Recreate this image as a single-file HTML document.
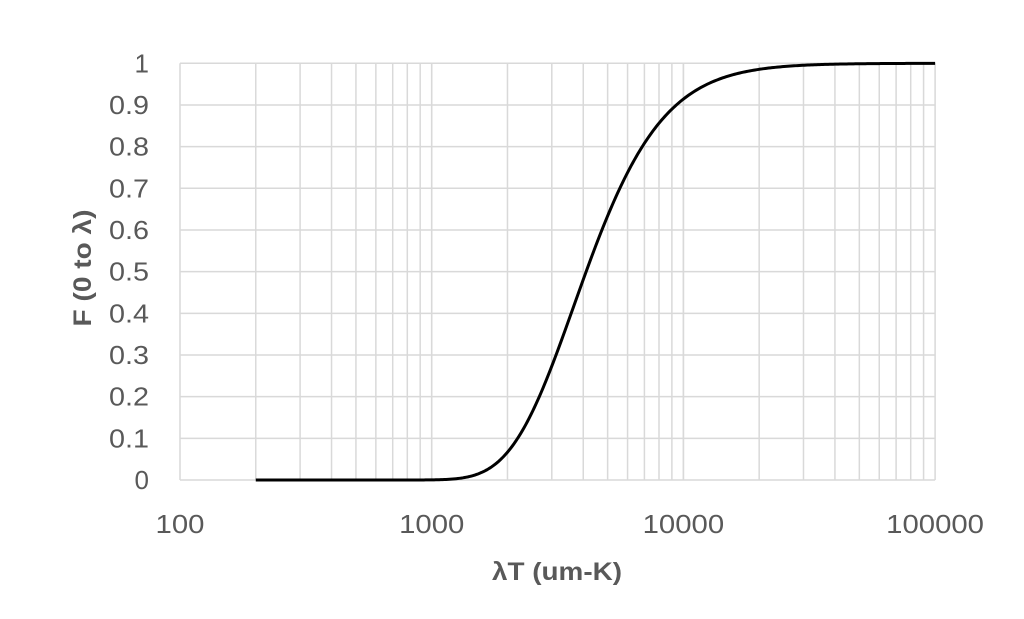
<!DOCTYPE html>
<html><head><meta charset="utf-8"><style>
html,body{margin:0;padding:0;background:#fff;}
svg{display:block;}
text{font-family:"Liberation Sans",sans-serif;fill:#595959;}
</style></head><body>
<svg id="s" width="1024" height="619" viewBox="0 0 1024 619" xmlns="http://www.w3.org/2000/svg">
<g id="grid" stroke="#d9d9d9" stroke-width="1.5" fill="none"></g>
<g id="labels" font-size="26"></g>
<text x="557" y="580" font-size="25" font-weight="bold" text-anchor="middle" textLength="130" lengthAdjust="spacingAndGlyphs">λT (um-K)</text>
<text transform="translate(91,268) rotate(-90)" font-size="25" font-weight="bold" text-anchor="middle" textLength="117" lengthAdjust="spacingAndGlyphs">F (0 to λ)</text>
<path id="curve" fill="none" stroke="#000" stroke-width="3"/>
</svg>
<script>
var X0=180,D=251.7,Y0=480,YT=63.3;
function xp(v){return X0+Math.log10(v/100)*D;}
function yp(f){return Y0-(Y0-YT)*f;}
var g=document.getElementById('grid'),L=document.getElementById('labels'),ns='http://www.w3.org/2000/svg';
function el(p,tag,a,t){var e=document.createElementNS(ns,tag);for(var k in a)e.setAttribute(k,a[k]);if(t!=null)e.textContent=t;p.appendChild(e);}
for(var d=100;d<100000;d*=10)for(var m=1;m<=10;m++){var x=xp(d*m);el(g,'line',{x1:x,x2:x,y1:YT,y2:Y0});}
for(var i=0;i<=10;i++){var y=yp(i/10);el(g,'line',{x1:X0,x2:xp(100000),y1:y,y2:y});
var t=i==0?'0':i==10?'1':'0.'+i;var a={x:149,y:y+9,'text-anchor':'end'};if(t.length==3){a.textLength=40;a.lengthAdjust='spacingAndGlyphs';}
el(L,'text',a,t);}
[100,1000,10000,100000].forEach(function(v){var s=String(v);el(L,'text',{x:xp(v),y:533,'text-anchor':'middle',textLength:s.length*16.3,lengthAdjust:'spacingAndGlyphs'},s);});
function F(lt){var x=14388/lt,s=0;for(var n=1;n<=60;n++){s+=Math.exp(-n*x)/n*(x*x*x+3*x*x/n+6*x/(n*n)+6/(n*n*n));}return 15/Math.pow(Math.PI,4)*s;}
var p='';for(var k=0;k<=400;k++){var v=200*Math.pow(500,k/400);p+=(k?'L':'M')+xp(v).toFixed(2)+' '+yp(F(v)).toFixed(2);}
document.getElementById('curve').setAttribute('d',p);
</script>
</body></html>
